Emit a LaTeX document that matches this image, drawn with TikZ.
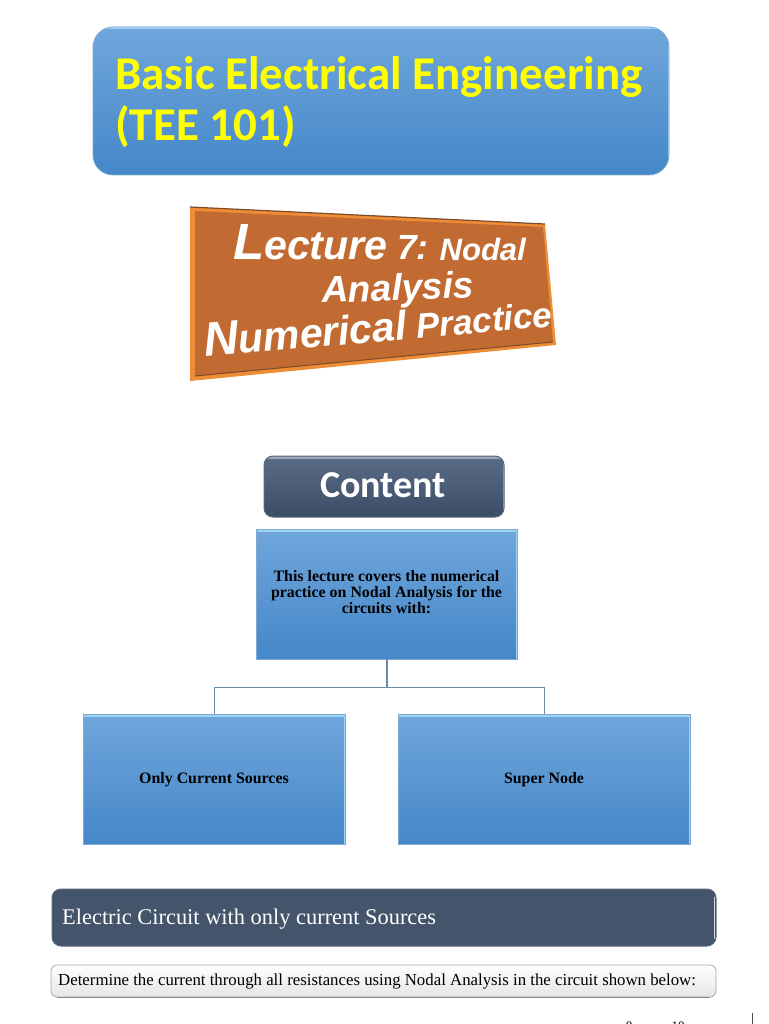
\documentclass[tikz,border=0pt]{standalone}
\usepackage{fontspec}
\setmainfont{Liberation Serif}
\newfontfamily\calfam{Carlito}
\newfontfamily\arlfam{Liberation Sans}
\usetikzlibrary{calc}
\definecolor{btop}{HTML}{70A6DC}
\definecolor{bbot}{HTML}{4587C8}
\definecolor{bedge}{HTML}{7FA9D2}
\definecolor{blite}{HTML}{9CD3F2}
\definecolor{dtop}{HTML}{5B6C86}
\definecolor{dbot}{HTML}{3B4C67}
\definecolor{dflat}{HTML}{44546A}
\definecolor{rust}{HTML}{C16B33}
\definecolor{rustlite}{HTML}{EE8D36}
\definecolor{rustdark}{HTML}{7C4B29}
\definecolor{wire}{HTML}{6A89A8}
\definecolor{ttl}{HTML}{FFFF00}
\tikzset{
  x=1pt,y=-1pt,
  bevel/.style={path picture={
    \draw[#1,line width=5pt] (path picture bounding box.north west)--(path picture bounding box.north east);
    \draw[#1,line width=3pt] (path picture bounding box.north east)--(path picture bounding box.south east);
  }},
  bluebox/.style={draw=bedge,line width=.8pt,top color=btop,bottom color=bbot,inner sep=0pt,bevel=blite},
  darkbox/.style={draw=dbot!85,line width=1pt,inner sep=0pt},
  blacktext/.style={anchor=center,text=black,inner sep=0pt,font=\bfseries\fontsize{15.9}{16}\selectfont,align=center},
  wirestyle/.style={draw=wire,line width=1pt},
  leclab/.style={anchor=base west,text=white,inner sep=0pt,font=\arlfam\bfseries\itshape},
}
\begin{document}
\begin{tikzpicture}
\useasboundingbox (0,0) rectangle (768,1024);
% title
\node[bluebox,rounded corners=20pt,minimum width=576pt,minimum height=148pt] (title) at (381,101) {};
\node[anchor=base west,inner sep=0pt,text=ttl,font=\calfam\bfseries\fontsize{47}{50}\selectfont] (t1) at (115,90) {Basic Electrical Engineering};
\node[anchor=base west,inner sep=0pt,text=ttl,font=\calfam\bfseries\fontsize{47}{50}\selectfont] (t2) at (115,141) {(TEE 101)};
% lecture panel
\fill[rustlite] (190,207)--(545,224)--(556,345)--(190,381)--cycle;
\fill[rust] (195,211)--(543,227)--(553,342)--(195,376)--cycle;
\draw[rustdark,line width=1.2pt] (190,207)--(545,224);
\draw[rustdark,line width=1pt] (195,376)--(553,342);
\node[leclab,rotate=-0.3] (l1) at (233,259) {\fontsize{51}{50}\selectfont L\fontsize{41}{50}\selectfont ecture\fontsize{35}{50}\selectfont{} 7:\fontsize{31}{50}\selectfont{} Nodal};
\node[leclab,rotate=2] (l2) at (322,303) {\fontsize{37}{50}\selectfont Analysis};
\node[leclab,rotate=5] (l3) at (205,357) {\fontsize{48}{50}\selectfont N\fontsize{41}{50}\selectfont umerical\fontsize{35}{50}\selectfont{} Practice};
% content
\node[darkbox,rounded corners=9pt,top color=dtop,bottom color=dbot,minimum width=240pt,minimum height=61pt,bevel=dtop!60!white] (content) at (384,486.5) {};
\node[anchor=base,inner sep=0pt,text=white,font=\calfam\bfseries\fontsize{38}{40}\selectfont] (contenttext) at (383,497) {Content};
% tree
\node[bluebox,minimum width=261pt,minimum height=130pt] (parent) at (386.5,594) {};
\node[bluebox,minimum width=262pt,minimum height=130pt] (left) at (214,779) {};
\node[bluebox,minimum width=292pt,minimum height=130pt] (right) at (544,779) {};
\coordinate (bus) at (386.5,687);
\draw[wirestyle] (parent.south) -- (bus) -| (left.north);
\draw[wirestyle] (bus) -| (right.north);
\draw[wirestyle] ($(parent.south)+(1.2,0)$) -- ($(bus)+(1.2,0)$);
\node[blacktext] (ptext) at (386.5,592.5) {This lecture covers the numerical\\practice on Nodal Analysis for the\\circuits with:};
\node[blacktext] (ltext) at (214,779.5) {Only Current Sources};
\node[blacktext] (rtext) at (544,779.5) {Super Node};
% section bar
\node[darkbox,rounded corners=9pt,fill=dflat,minimum width=664pt,minimum height=57pt] (bar) at (384,917.5) {};
\draw[white!75!dflat,line width=1pt] (714,897)--(714,939);
\node[anchor=base west,inner sep=0pt,text=white,font=\fontsize{22.4}{24}\selectfont] (bartext) at (62,924) {Electric Circuit with only current Sources};
% question
\node[draw=black!35,line width=.8pt,rounded corners=6pt,top color=white,bottom color=black!10,minimum width=665pt,minimum height=32pt,inner sep=0pt] (q) at (383.5,981) {};
\draw[black!45,line width=1.2pt] ($(q.south west)+(6,0)$) -- ($(q.south east)+(-6,0)$);
\node[anchor=base west,inner sep=0pt,text=black,font=\fontsize{16.8}{20}\selectfont] (qtext) at (58,985) {Determine the current through all resistances using Nodal Analysis in the circuit shown below:};
% cropped fragments
\begin{scope}
\clip (0,0) rectangle (768,1024);
\node[anchor=base,inner sep=0pt,text=black,font=\fontsize{13}{15}\selectfont] (frag1) at (629,1030) {8};
\node[anchor=base,inner sep=0pt,text=black,font=\fontsize{13}{15}\selectfont] (frag2) at (678,1030) {10};
\draw[black!70,line width=.8pt] (752,1013)--(752,1024);
\end{scope}
\end{tikzpicture}
\end{document}
